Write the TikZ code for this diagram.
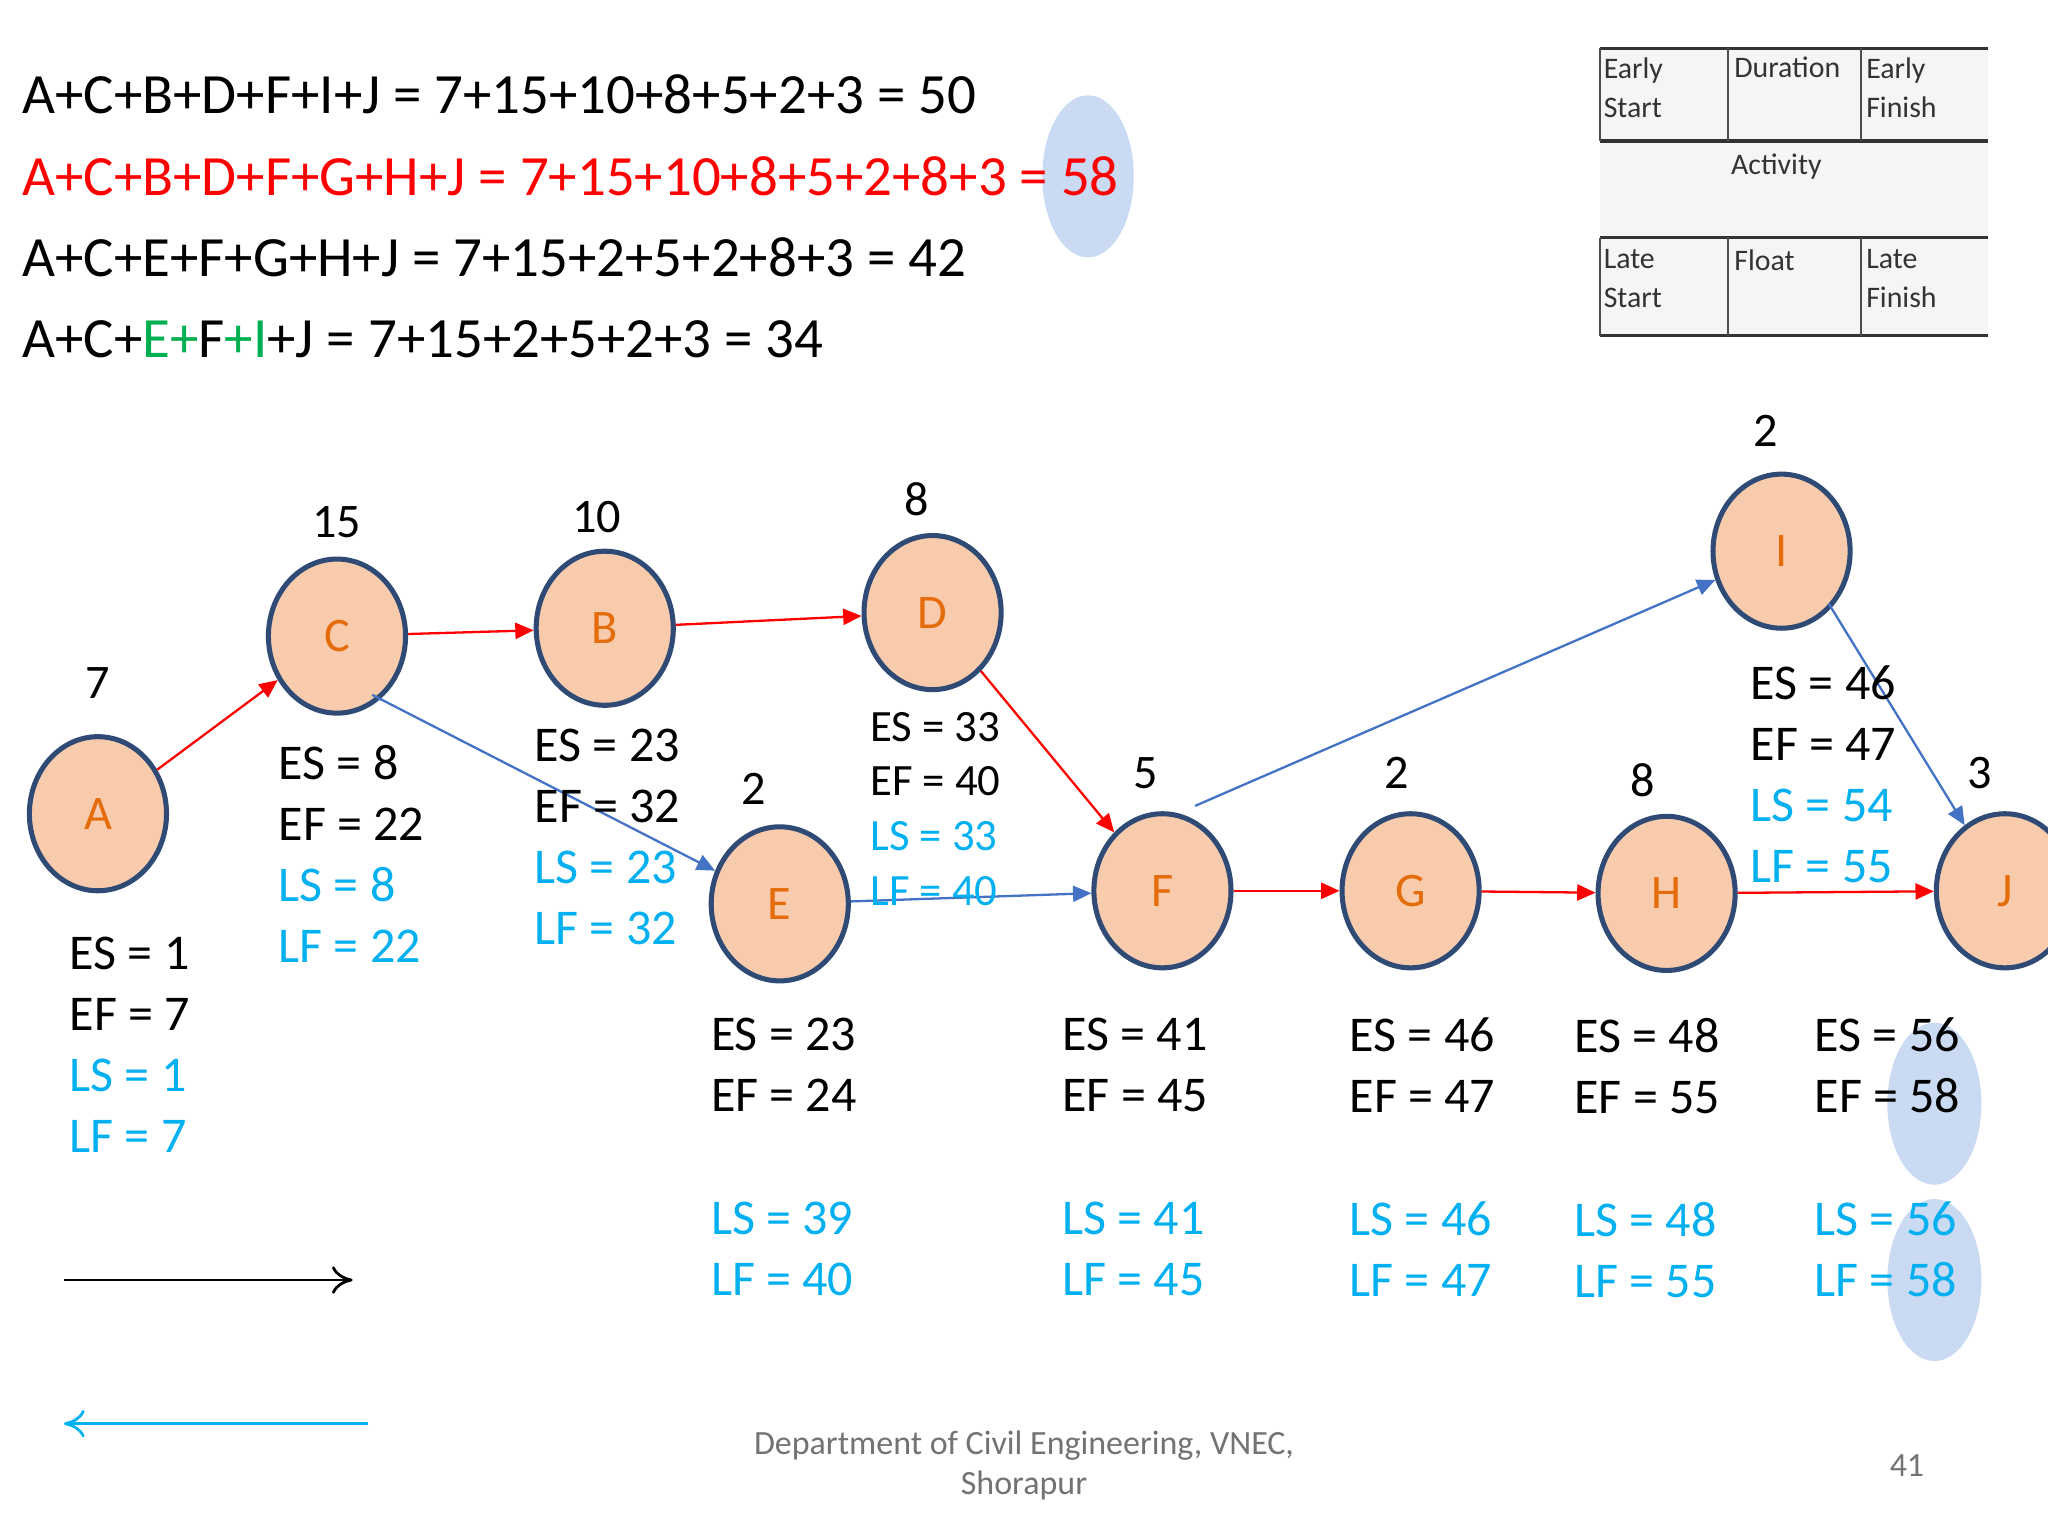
\documentclass[tikz,border=0pt]{standalone}
\usepackage{fontspec}
\setmainfont{Carlito}
\usetikzlibrary{arrows.meta,shapes.geometric}
\definecolor{cy}{HTML}{00B0F0}
\definecolor{gr}{HTML}{00B050}
\definecolor{peach}{HTML}{F8CBAD}
\definecolor{bord}{HTML}{2F4A75}
\definecolor{org}{HTML}{E46C0A}
\definecolor{bl}{HTML}{4472C4}
\definecolor{hl}{HTML}{C9DAF2}
\tikzset{
 act/.style={ellipse,draw=bord,line width=2.2pt,fill=peach,minimum width=2.1cm,minimum height=2.36cm,inner sep=0pt,font=\fontsize{21}{24}\selectfont,text=org},
 dur/.style={font=\fontsize{21}{24}\selectfont},
 info/.style={anchor=north west,align=left,font=\fontsize{21.8}{26.6}\selectfont,inner sep=0pt},
 infos/.style={anchor=north west,align=left,font=\fontsize{19.5}{23.8}\selectfont,inner sep=0pt},
 redar/.style={red,line width=1pt,-{Triangle[length=8pt,width=7pt]}},
 bluar/.style={bl,line width=1pt,-{Triangle[length=8pt,width=7pt]}},
 form/.style={anchor=west,font=\fontsize{24.8}{28}\selectfont,inner sep=0pt},
 tab/.style={anchor=north west,align=left,font=\fontsize{13}{17}\selectfont,inner sep=2pt,text=black!80},
 foot/.style={font=\fontsize{14.8}{17.5}\selectfont,text=black!55}
}
\begin{document}
\begin{tikzpicture}[x=0.02cm,y=-0.02cm]
\useasboundingbox (0,0) rectangle (1568,1176);
\fill[white] (0,0) rectangle (1568,1176);
% highlights
\fill[hl] (833,135) ellipse (35 and 62);
\fill[hl] (1481,845) ellipse (36 and 62);
\fill[hl] (1481,980) ellipse (36 and 62);
% formulas
\node[form] (f1) at (17,72) {A+C+B+D+F+I+J = 7+15+10+8+5+2+3 = 50};
\node[form,text=red] (f2) at (17,135) {A+C+B+D+F+G+H+J = 7+15+10+8+5+2+8+3 = 58};
\node[form] (f3) at (17,197) {A+C+E+F+G+H+J = 7+15+2+5+2+8+3 = 42};
\node[form] (f4) at (17,260) {A+C+\textcolor{gr}{E+}F\textcolor{gr}{+I}+J = 7+15+2+5+2+3 = 34};
% legend table
\fill[black!4] (1225,37) rectangle (1522,257);
\draw[line width=1.5pt,black!80] (1225,37)--(1522,37) (1225,108)--(1522,108) (1225,182)--(1522,182) (1225,257)--(1522,257);
\draw[line width=1pt,black!70] (1225,37)--(1225,108) (1323,37)--(1323,108) (1425,37)--(1425,108)
 (1225,182)--(1225,257) (1323,182)--(1323,257) (1425,182)--(1425,257);
\node[tab] (t1) at (1224,40) {Early\\Start};
\node[tab] (t2) at (1324,40) {Duration};
\node[tab] (t3) at (1425,40) {Early\\Finish};
\node[tab,anchor=north] (t4) at (1360,114) {Activity};
\node[tab] (t5) at (1224,187) {Late\\Start};
\node[tab] (t6) at (1324,187) {Float};
\node[tab] (t7) at (1425,187) {Late\\Finish};
\coordinate (cE1) at (285,532);
\coordinate (fI1) at (915,617);
\coordinate (iJ1) at (1400,462);
% nodes
\node[act] (A) at (75,623) {A};
\node[act] (C) at (258,487) {C};
\node[act] (B) at (463,481) {B};
\node[act] (D) at (714,469) {D};
\node[act] (E) at (597,692) {E};
\node[act] (F) at (890,682) {F};
\node[act] (G) at (1080,682) {G};
\node[act] (H) at (1276,684) {H};
\node[act] (I) at (1364,422) {I};
\node[act] (J) at (1535,682) {J};
\draw[redar] (A) -- (C);
\draw[redar] (C) -- (B);
\draw[redar] (B) -- (D);
\draw[redar] (D) -- (F);
\draw[redar] (F) -- (G);
\draw[redar] (G) -- (H);
\draw[redar] (H) -- (J);
\draw[bluar] (cE1) -- (E);
\draw[bluar] (E) -- (F);
\draw[bluar] (fI1) -- (I);
\draw[bluar] (iJ1) -- (J);
% durations
\node[dur] (dA) at (75,523) {7};
\node[dur] (dC) at (258,400) {15};
\node[dur] (dB) at (457,396) {10};
\node[dur] (dD) at (702,382) {8};
\node[dur] (dE) at (577,604) {2};
\node[dur] (dF) at (877,592) {5};
\node[dur] (dG) at (1069,592) {2};
\node[dur] (dH) at (1258,597) {8};
\node[dur] (dI) at (1352,330) {2};
\node[dur] (dJ) at (1516,592) {3};
% info
\node[info] (iA) at (53,717) {ES = 1\\EF = 7\\\textcolor{cy}{LS = 1}\\\textcolor{cy}{LF = 7}};
\node[info] (iC) at (213,570) {ES = 8\\EF = 22\\\textcolor{cy}{LS = 8}\\\textcolor{cy}{LF = 22}};
\node[info] (iB) at (409,558) {ES = 23\\EF = 32\\\textcolor{cy}{LS = 23}\\\textcolor{cy}{LF = 32}};
\node[infos] (iD) at (666,545) {ES = 33\\EF = 40\\\textcolor{cy}{LS = 33}\\\textcolor{cy}{LF = 40}};
\node[info] (iI) at (1340,509) {ES = 46\\EF = 47\\\textcolor{cy}{LS = 54}\\\textcolor{cy}{LF = 55}};
\foreach \n/\x/\es/\ef/\ls/\lf in {E/544/23/24/39/40,F/813/41/45/41/45,G/1033/46/47/46/47,H/1205/48/55/48/55,J/1389/56/58/56/58}{
 \node[info] (e\n) at (\x,779) {ES = \es\\EF = \ef};
 \node[info,text=cy] (l\n) at (\x,920) {LS = \ls\\LF = \lf};
}
% direction arrows
\coordinate (fw1) at (49,980); \coordinate (fw2) at (270,980);
\coordinate (bw1) at (282,1090); \coordinate (bw2) at (49,1090);
\draw[line width=1.2pt,-{To[length=9pt,width=12pt]}] (fw1) -- (fw2);
\draw[cy,line width=1.2pt,-{To[length=9pt,width=12pt]}] (bw1) -- (bw2);
% footer
\node[foot,align=center] (ft) at (784,1122) {Department of Civil Engineering, VNEC,\\Shorapur};
\node[foot] (pg) at (1460,1122) {41};
\end{tikzpicture}
\end{document}
